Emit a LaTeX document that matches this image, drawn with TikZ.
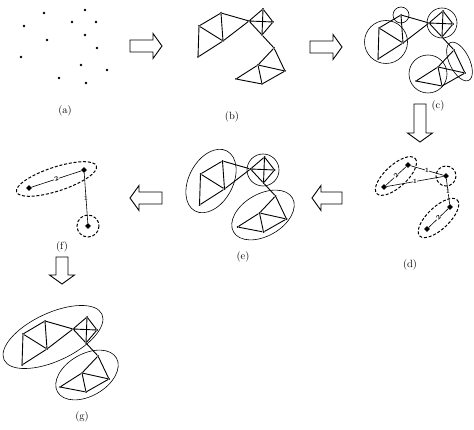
\documentclass[tikz,border=0pt]{standalone}
\usepackage{tikz}
\usetikzlibrary{shapes.geometric}
\tikzset{>=latex}
\tikzset{
  vtx/.style={circle,fill,inner sep=0pt,minimum size=2pt},
  pt/.style={circle,fill,inner sep=0pt,minimum size=2.8pt},
  dia/.style={diamond,fill,inner sep=0pt,minimum size=6pt},
  edge/.style={line width=0.9pt},
  thinedge/.style={line width=0.6pt},
  grp/.style={line width=0.6pt},
  dgrp/.style={line width=1pt,dash pattern=on 3pt off 1.8pt},
  wt/.style={fill=white,inner sep=0.3pt,font=\fontsize{6.5}{6.5}\selectfont\bfseries},
  lab/.style={font=\fontsize{10.5}{10.5}\selectfont},
  fat/.style={line width=0.9pt,fill=white},
}
\newcommand{\fatarrow}[4]{%
  \draw[fat,shift={(#1,#2)},rotate=#3] (0,-6) -- (#4-9,-6) -- (#4-9,-12.5) -- (#4,0)
    -- (#4-9,12.5) -- (#4-9,6) -- (0,6) -- cycle;}
\newcommand{\clustergraph}[3]{%
  \begin{scope}[shift={(#1,#2)}]
  \node[vtx] (#3-1) at (199,26) {};
  \node[vtx] (#3-2) at (221,13) {};
  \node[vtx] (#3-3) at (223,41) {};
  \node[vtx] (#3-4) at (198,57) {};
  \node[vtx] (#3-5) at (249,21) {};
  \node[vtx] (#3-6) at (263,9) {};
  \node[vtx] (#3-7) at (273,22) {};
  \node[vtx] (#3-8) at (262,35) {};
  \node[vtx] (#3-9) at (274,48) {};
  \node[vtx] (#3-10) at (258,65) {};
  \node[vtx] (#3-11) at (285,71) {};
  \node[vtx] (#3-12) at (236,79) {};
  \node[vtx] (#3-13) at (262,84) {};
  \draw[edge] (#3-1) -- (#3-2) -- (#3-3) -- (#3-4) -- (#3-1) -- (#3-3);
  \draw[edge] (#3-2) -- (#3-5) -- (#3-3);
  \draw[edge] (#3-5) -- (#3-6) -- (#3-7) -- (#3-8) -- (#3-5) -- (#3-7);
  \draw[edge] (#3-6) -- (#3-8) -- (#3-9);
  \draw[edge] (#3-9) -- (#3-10) -- (#3-11) -- (#3-9);
  \draw[edge] (#3-10) -- (#3-12) -- (#3-13) -- (#3-10);
  \draw[edge] (#3-13) -- (#3-11);
  \end{scope}}

\begin{document}
\begin{tikzpicture}[x=1pt,y=-1pt]
\useasboundingbox (0,0) rectangle (474,430);
% (a) points
\foreach \px/\py [count=\i] in {44/13,85/10,24/26,72/22,96/22,47/40,85/35,97/48,21/57,81/65,107/70,59/78,86/83}
  \node[pt] (a\i) at (\px,\py) {};
\node[lab] (la) at (65,111) {(a)};
\fatarrow{130}{46}{0}{32}
% (b) graph
\clustergraph{0}{0}{b}
\node[lab] (lb) at (232,117) {(b)};
\fatarrow{310}{47}{0}{32}
% (c) graph with groups
\clustergraph{180}{2}{c}
\draw[grp] (c-2) circle [radius=8];
\draw[grp] (386,42) circle [radius=21.5];
\draw[grp] (442,23) circle [radius=15];
\coordinate (cr) at (459.5,61.5);
\draw[grp,rotate around={116:(cr)}] (cr) ellipse [x radius=21, y radius=10];
\draw[grp] (428,74) circle [radius=19];
\fatarrow{420}{104}{-90}{38}
\node[lab] (lc) at (438,106) {(c)};
% (d) reduced graph
\node[dia] (dA) at (408,165) {};
\node[dia] (dB) at (384,187) {};
\node[dia] (dC) at (446,176) {};
\node[dia] (dD) at (450,207) {};
\node[dia] (dE) at (427,229) {};
\draw[thinedge] (dA) -- node[wt,sloped] {2} (dB);
\draw[thinedge] (dA) -- node[wt] {1} (dC);
\draw[thinedge] (dB) -- node[wt] {1} (dC);
\draw[thinedge] (dC) -- node[wt] {1} (dD);
\draw[thinedge] (dD) -- node[wt,sloped] {2} (dE);
\coordinate (dAB) at (396,176);
\coordinate (dDE) at (438.5,218);
\draw[dgrp,rotate around={42.5:(dAB)}] (dAB) ellipse [x radius=26, y radius=11];
\draw[dgrp] (dC) circle [radius=10];
\draw[dgrp,rotate around={43.7:(dDE)}] (dDE) ellipse [x radius=26, y radius=11];
\node[lab] (ld) at (410,265) {(d)};
\fatarrow{342}{198}{180}{30}
% (e) graph with merged groups
\clustergraph{1.5}{148}{e}
\coordinate (el) at (211,181);
\coordinate (eb) at (263,215);
\draw[grp,rotate around={62:(el)}] (el) ellipse [x radius=34, y radius=22];
\draw[grp] (263,170) circle [radius=16];
\draw[grp,rotate around={30:(eb)}] (eb) ellipse [x radius=34, y radius=21];
\node[lab] (le) at (243,257) {(e)};
\fatarrow{162}{198}{180}{32}
% (f) reduced graph
\node[dia] (fA) at (29,188) {};
\node[dia] (fB) at (84,170) {};
\node[dia] (fC) at (88,226) {};
\draw[thinedge] (fA) -- node[wt,sloped] {2} (fB);
\draw[thinedge] (fB) -- node[wt] {1} (fC);
\coordinate (fAB) at (56.5,179);
\draw[dgrp,rotate around={18:(fAB)}] (fAB) ellipse [x radius=42, y radius=12];
\draw[dgrp] (fC) circle [radius=11];
\node[lab] (lf) at (62,247) {(f)};
\fatarrow{62}{257}{-90}{27}
% (g) final groups
\clustergraph{-176}{308}{g}
\coordinate (gl) at (53,337);
\coordinate (gb) at (87,375);
\draw[grp,rotate around={25:(gl)}] (gl) ellipse [x radius=54, y radius=24];
\draw[grp,rotate around={30:(gb)}] (gb) ellipse [x radius=34, y radius=21];
\node[lab] (lg) at (82,417) {(g)};
\end{tikzpicture}
\end{document}
